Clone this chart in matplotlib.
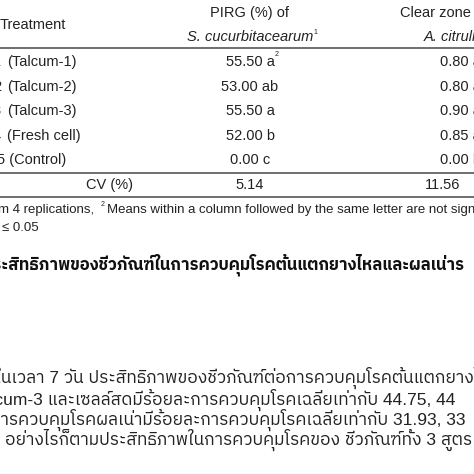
import matplotlib
matplotlib.use('Agg')
import matplotlib.pyplot as plt
from matplotlib import font_manager

# pick a font that can draw Thai, if any is installed
names = sorted(set(f.name for f in font_manager.fontManager.ttflist))
thai = [n for n in names if 'Thai' in n or n in ('Loma', 'Garuda', 'Norasi', 'Kinnari', 'Sawasdee', 'Umpush', 'Waree', 'Tlwg Typo', 'Laksaman')]
plt.rcParams['font.family'] = ['Liberation Sans'] + thai + ['Noto Sans', 'DejaVu Sans']

treat_ids = ['T1', 'T2', 'T3', 'T4', 'T5']
treat_names = ['(Talcum-1)', '(Talcum-2)', '(Talcum-3)', '(Fresh cell)', '(Control)']
pirg = ['55.50', '53.00', '55.50', '52.00', '0.00']
pirg_letters = ['a', 'ab', 'a', 'b', 'c']
clear_zone = ['0.80', '0.80', '0.90', '0.85', '0.00']
cz_letters = ['a', 'a', 'a', 'a', 'b']
cv = ['5.14', '11.56']

title_th = 'ประสิทธิภาพของชีวภัณฑ์ในการควบคุมโรคต้นแตกยางไหลและผลเน่าร'
para_th = [
    'ภายในเวลา 7 วัน ประสิทธิภาพของชีวภัณฑ์ต่อการควบคุมโรคต้นแตกยางไหล',
    'Talcum-3 และเซลล์สดมีร้อยละการควบคุมโรคเฉลี่ยเท่ากับ 44.75, 44',
    'การควบคุมโรคผลเน่ามีร้อยละการควบคุมโรคเฉลี่ยเท่ากับ 31.93, 33',
    'อย่างไรก็ตามประสิทธิภาพในการควบคุมโรคของ ชีวภัณฑ์ทั้ง 3 สูตร',
]

W = H = 474
fig = plt.figure(figsize=(4.74, 4.74), dpi=100)
fig.patch.set_facecolor('white')

def T(x, y, s, **kw):
    kw.setdefault('fontsize', 10.5)
    kw.setdefault('color', '#222222')
    kw.setdefault('va', 'center')
    fig.text(x / W, 1 - y / H, s, **kw)

def hline(y):
    fig.add_artist(plt.Line2D([0, 1], [1 - y / H, 1 - y / H], color='#555555', lw=1.2))

# header
T(0, 25, 'Treatment')
T(250, 13, 'PIRG (%) of', ha='center')
T(250, 37, 'S. cucurbitacearum', ha='center', style='italic')
T(313, 32, '1', fontsize=5)
T(400, 13, 'Clear zone (mm) of')
T(424, 37, 'A. citrullii', style='italic')
hline(48)

row_y = [62, 87, 111, 136, 160]
for i, y in enumerate(row_y):
    if i < 4:
        T(7, y, treat_names[i])
        T(1, y, treat_ids[i][-1], ha='right')
    else:
        T(-3, y, treat_ids[i][-1] + ' ' + treat_names[i])
    T(250, y, pirg[i] + ' ' + pirg_letters[i], ha='center')
    T(440, y, clear_zone[i] + ' ' + cz_letters[i])
T(275, 55, '2', fontsize=5)
hline(173)
T(133, 185, 'CV (%)', ha='right')
T(250, 185, cv[0], ha='center')
T(425, 185, cv[1])
hline(197)

T(-2, 210, 'm 4 replications,', fontsize=9.5)
T(101, 205, '2', fontsize=5)
T(107, 210, 'Means within a column followed by the same letter are not significantly', fontsize=9.5)
T(2, 228, '≤ 0.05', fontsize=9.5)

T(-18, 265, title_th, fontsize=12, weight='bold', color='#111111')
for k, (y, s) in enumerate(zip([378, 400, 420, 440], para_th)):
    T([-34, -28, -10, 5][k], y, s, fontsize=12.5)

fig.savefig('out.png', dpi=100)
